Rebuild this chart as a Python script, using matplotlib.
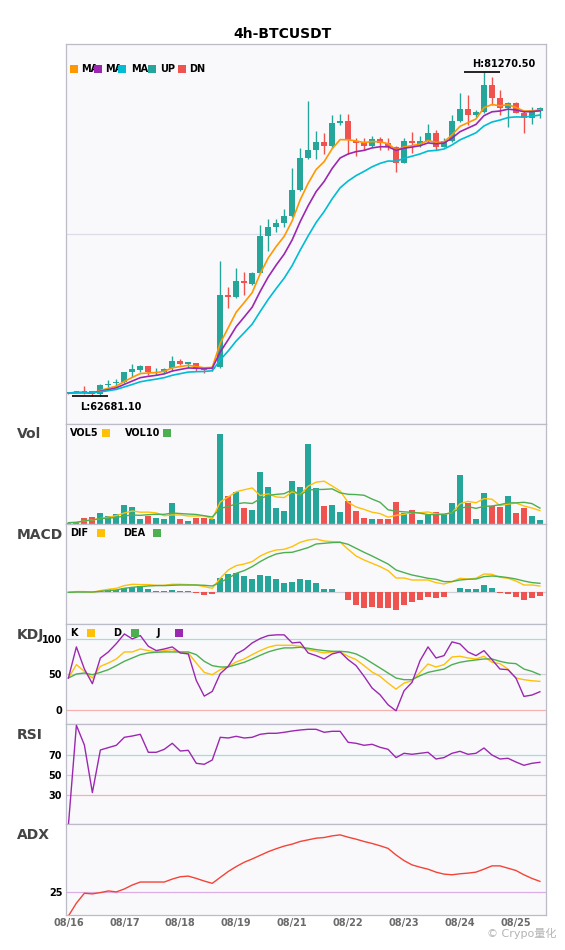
import numpy as np
import pandas as pd
import matplotlib
matplotlib.use("Agg")
import matplotlib.pyplot as plt
from matplotlib.patches import Rectangle

UP = "#26a69a"
DN = "#ef5350"
YEL = "#ffc107"
GRN = "#4caf50"
PUR = "#9c27b0"

# 4h candles, 16 Aug - 25 Aug
date_labels = ["08/16", "08/17", "08/18", "08/19", "08/21", "08/22", "08/23", "08/24", "08/25"]
date_index = [0, 7, 14, 21, 28, 35, 42, 49, 56]

opens = [62910, 62887, 62955, 62984, 62812, 63311, 63425, 63517, 64089, 64187,
         64416, 63998, 64072, 64284, 64719, 64548, 64570, 64284, 64227, 64341,
         68482, 68385, 69284, 69112, 69759, 71861, 72394, 72623, 73006, 74495,
         76328, 76786, 77244, 77015, 78333, 78447, 77302, 77170, 77015, 77399,
         77170, 76958, 76059, 77319, 77130, 77319, 77743, 76975, 77319, 78464,
         79117, 78774, 78980, 80509, 79747, 79174, 79495, 78922, 78602, 79037]
highs = [62955, 63013, 63288, 63013, 63385, 63614, 63671, 64101, 64530, 64473,
         64444, 64319, 64284, 64989, 64800, 64662, 64588, 64330, 64416, 70429,
         68957, 70011, 69816, 69799, 72491, 72817, 72817, 73407, 75738, 76884,
         79592, 77874, 77743, 78791, 78848, 78848, 77456, 77456, 77588, 77514,
         77456, 77015, 77456, 77834, 77588, 78275, 77932, 77456, 78791, 80033,
         79936, 79077, 81270.5, 80984, 80222, 79552, 79552, 79077, 79232, 79232]
lows = [62812, 62852, 62841, 62681.1, 62727, 63230, 63230, 63425, 63803, 64089,
        63900, 63900, 63998, 64147, 64456, 64376, 64147, 63998, 64130, 64284,
        67720, 68293, 68482, 69055, 69725, 71019, 72107, 72394, 72966, 74455,
        76254, 76254, 76557, 76884, 78201, 76557, 76460, 76786, 76941, 76786,
        76786, 75543, 76025, 76597, 76975, 77262, 76786, 76975, 77262, 78407,
        78218, 78693, 78888, 79363, 78791, 78086, 78888, 77777, 78275, 78602]
closes = [62870, 62984, 62887, 62795, 63328, 63385, 63517, 64072, 64227, 64416,
          64089, 64089, 64261, 64702, 64530, 64605, 64227, 64187, 64376, 68482,
          68385, 69284, 69152, 69759, 71861, 72394, 72588, 73006, 74495, 76328,
          76786, 77244, 77015, 78333, 78430, 77359, 77170, 77015, 77399, 77204,
          76958, 76059, 77319, 77170, 77319, 77743, 76975, 77319, 78464, 79117,
          78774, 78980, 80509, 79747, 79174, 79495, 78922, 78602, 79037, 79174]
volume = [1.3, 2, 6, 7, 11, 8, 10, 19, 17, 5, 8.3, 6, 5, 21, 5, 3, 6, 6, 5, 90,
          28, 32, 16, 14, 52, 37, 16, 13, 43, 37, 80, 36, 18, 19, 12, 23, 13, 6, 5, 5,
          5, 22, 11.3, 14, 4, 9, 12, 10, 21, 49, 21, 5, 31, 18, 17, 28, 11, 16, 8, 4]

dif = [0, 0.7, 0.7, 0, 1.7, 3, 4, 6.7, 8, 7.7, 7.7, 7, 7, 8, 8, 7.7, 7.3, 5.7, 4, 14,
       22.3, 26.7, 28.3, 30.7, 36.3, 40, 42.3, 43, 45.7, 50, 52.3, 53.3, 51.3, 50.7, 50.3, 43, 36.3, 32.3, 29, 25.7,
       21.7, 14.3, 14.3, 12.3, 12.3, 12.3, 9.7, 8.3, 10.7, 14, 13.3, 14, 18.3, 18, 15, 14, 11.3, 7.3, 7.3, 6.3]
dea = [0, 0.3, 0.3, 0.3, 1, 1.7, 2.3, 4, 5, 5.7, 6.3, 6.7, 6.7, 7, 7.3, 7.3, 7.3, 7, 6.3, 10,
       14, 19, 21.7, 25.7, 30.7, 35, 38.3, 39.7, 40, 42.3, 44.7, 48.3, 49, 49.7, 50, 48, 44, 40, 36.3, 32.3,
       28.3, 22.3, 19.7, 17.3, 15.7, 14, 13, 10.7, 10.7, 12.3, 13, 13.3, 15.7, 16.3, 15.7, 14.7, 13.3, 11.3, 9.7, 9]
macd_hist = [0, 0.3, 0.3, 0.3, 1.7, 3, 2.3, 4, 5.7, 6.3, 3.3, 1.3, 1.3, 2, 1.3, 1.3, -1, -2.3, -1.3, 14.3,
             18.3, 19.3, 16.3, 13.3, 17.3, 16.3, 13.3, 9.3, 10.3, 13.3, 12, 9, 3.3, 3.3, 0, -7.7, -12.7, -15.3, -14.7, -15.3,
             -15.7, -17.7, -12.7, -9.7, -7.7, -4.7, -5.7, -4.7, 0, 4.3, 3.3, 3.3, 7.3, 4.3, -0.7, -1.7, -4.7, -7.7, -5.7, -3.7]

k_line = [44.8, 63.7, 54.2, 44.8, 61.3, 66, 71.7, 81.6, 81.6, 85.8, 83.5, 81.6, 83.5, 85, 80.2, 80.2, 66, 52.8, 49.5, 56.6,
          61.3, 67.5, 71.7, 77.8, 83.5, 88.2, 91, 91, 91, 89.6, 84.9, 82.5, 80.2, 81.6, 81.6, 75.5, 70.8, 62.3, 53.3, 47.2,
          37.7, 29.2, 37.7, 41, 52.8, 64.6, 60.4, 63.7, 74.5, 75.5, 73.1, 71.7, 75.5, 67, 65.1, 57.5, 44.8, 42.5, 41, 40.1]
d_line = [44.8, 50.5, 51.9, 49.5, 52.8, 56.6, 62.3, 68.4, 73.1, 77.8, 80.2, 81.1, 81.6, 81.6, 81.6, 81.6, 77.8, 68.4, 62.3, 60.4,
          60.4, 63.7, 67, 71.7, 76.9, 81.6, 84.9, 87.3, 87.3, 88.2, 86.8, 84.9, 83.5, 82.5, 82.5, 81.6, 78.8, 73.1, 66, 59,
          51.9, 44.8, 42.5, 42.5, 48.1, 52.8, 55.2, 57.5, 63.7, 67, 68.9, 70.3, 71.7, 71.7, 68.4, 66, 65.1, 57.5, 54.2, 49.5]
j_line = [44.8, 88.7, 57.5, 36.8, 73, 81.6, 93.4, 107, 100, 104.7, 89.6, 83.5, 85.8, 88.7, 80.2, 78.8, 41.5, 19.3, 25.9, 51,
          61.3, 78.8, 85, 94.3, 100.5, 104.7, 105.7, 105.7, 94.3, 95.3, 80.2, 76.4, 71.7, 78.8, 81.6, 70.8, 62.3, 47.2, 30.7, 21.2,
          7.1, -1.4, 26.9, 38.7, 69.3, 88.7, 73.1, 76.4, 95.8, 92.9, 81.6, 76.4, 83.5, 70.8, 57.5, 56.6, 44.8, 18.9, 20.8, 25.5]

rsi = [0, 100, 80.3, 32.7, 75.3, 77.7, 80, 88, 89.3, 91, 73, 73, 76, 82, 74.3, 75, 62, 61, 65.3, 88,
       87.3, 89, 87.3, 88, 91, 92, 92, 93, 94.3, 95.3, 96, 96, 93, 94, 94, 83, 82, 80, 81, 78,
       76, 67.7, 72, 71, 72, 73, 66.3, 67.7, 72, 74, 71, 72, 77.3, 70.3, 66.3, 67, 63.3, 60, 62, 63]

adx = [17.7, 21.6, 24.6, 24.4, 24.8, 25.3, 25, 25.9, 27.1, 28, 28, 28, 28, 28.9, 29.6, 29.8, 29.1, 28.3, 27.6, 29.4,
       31.2, 32.7, 34, 35, 36.1, 37.2, 38.1, 38.9, 39.5, 40.3, 40.8, 41.3, 41.5, 42, 42.3, 41.6, 41, 40.3, 39.7, 39,
       38.2, 36.2, 34.5, 33.2, 32.5, 31.9, 31, 30.4, 30.2, 30.5, 30.7, 31, 31.9, 32.9, 32.9, 32.2, 31.5, 30.2, 29.1, 28.2]

W, H = 565, 950


def fxy(px, py):
    # image pixel -> figure fraction
    return px / W, 1 - py / H


def style_axis(ax):
    ax.set_facecolor("#f9f9fc")
    for s in ax.spines.values():
        s.set_color("#bcbcc8")
        s.set_linewidth(0.9)
    ax.tick_params(length=0, labelbottom=False, labelleft=False)
    ax.set_xlim(-0.3, 59.7)


def add_panel_axes(fig, top, bottom):
    l, t = fxy(66, top)
    r, b = fxy(545.5, bottom)
    ax = fig.add_axes([l, b, r - l, t - b])
    style_axis(ax)
    return ax


def legend_text(fig, px, py, txt):
    x, y = fxy(px, py)
    fig.text(x, y, txt, fontsize=7, fontweight="bold", va="center", ha="left", zorder=3)


def legend_box(fig, px, py, color):
    x, y = fxy(px, py + 4)
    fig.patches.append(Rectangle((x, y), 8 / W, 8 / H, transform=fig.transFigure,
                                 facecolor=color, edgecolor="none", zorder=4))


def set_ref_ticks(ax, ticks):
    ax.set_yticks(ticks)
    ax.tick_params(labelleft=True, pad=3)
    for lab in ax.get_yticklabels():
        lab.set_fontweight("bold")
        lab.set_fontsize(7)


fig = plt.figure(figsize=(W / 100, H / 100), dpi=100)
fig.patch.set_facecolor("white")

x = np.arange(len(closes))
o = np.array(opens, dtype=float)
hi = np.array(highs, dtype=float)
lo = np.array(lows, dtype=float)
c = np.array(closes, dtype=float)
colors = np.where(c >= o, UP, DN)

# ---- price panel
ax = add_panel_axes(fig, 44, 424)
ax.vlines(x, lo, hi, color=colors, lw=1.0, zorder=2)
span = hi.max() - lo.min()
body = np.maximum(np.abs(c - o), span * 0.004)
ax.bar(x, body, bottom=np.minimum(o, c), width=0.72, color=colors, zorder=2)
close_s = pd.Series(c)
# exponential MAs 5 / 8 / 13
for n, col in [(5, "#ff9800"), (8, PUR), (13, "#00bcd4")]:
    ax.plot(x, close_s.ewm(span=n, adjust=False).mean(), color=col, lw=1.2, zorder=3)
pad = span * 0.0853
ax.set_ylim(lo.min() - pad, hi.max() + pad)
ax.set_yticks([72000])
ax.yaxis.grid(True, color="#dcdce8", lw=0.9)
ax.set_axisbelow(True)

i_hi = int(hi.argmax())
i_lo = int(lo.argmin())
ax.hlines(hi.max(), i_hi - 2.5, i_hi + 2, color="black", lw=1.2, zorder=4)
ax.annotate(f"H:{hi.max():.2f}", (i_hi - 1.5, hi.max()), xytext=(0, 5.5),
            textcoords="offset points", fontsize=7, fontweight="bold", va="center")
ax.hlines(lo.min(), i_lo - 2.5, i_lo + 2, color="black", lw=1.2, zorder=4)
ax.annotate(f"L:{lo.min():.2f}", (i_lo - 1.5, lo.min()), xytext=(0, -7.5),
            textcoords="offset points", fontsize=7, fontweight="bold", va="center")

legend_box(fig, 70, 69, "#ff9800")
legend_text(fig, 81, 69, "MA")
legend_box(fig, 94, 69, PUR)
legend_text(fig, 105, 69, "MA")
legend_box(fig, 118, 69, "#00bcd4")
legend_text(fig, 131, 69, "MA")
legend_box(fig, 148, 69, UP)
legend_text(fig, 160, 69, "UP")
legend_box(fig, 178, 69, DN)
legend_text(fig, 189, 69, "DN")

# ---- volume
ax_v = add_panel_axes(fig, 424, 524)
vol = np.array(volume)
ax_v.bar(x, vol, width=0.75, color=colors, zorder=2)
vol_s = pd.Series(vol)
ax_v.plot(x, vol_s.rolling(5, min_periods=1).mean(), color=YEL, lw=1.0, zorder=3)
ax_v.plot(x, vol_s.rolling(10, min_periods=1).mean(), color=GRN, lw=1.0, zorder=3)
ax_v.set_ylim(0, vol.max() * 1.11)
legend_text(fig, 70, 433, "VOL5")
legend_box(fig, 102, 433, YEL)
legend_text(fig, 125, 433, "VOL10")
legend_box(fig, 163, 433, GRN)

# ---- MACD
ax_m = add_panel_axes(fig, 524, 624)
hist = np.array(macd_hist)
ax_m.axhline(0, color="#cfcfd8", lw=0.9, zorder=1)
ax_m.bar(x, hist, width=0.75, color=np.where(hist >= 0, UP, DN), zorder=2)
ax_m.plot(x, dif, color=YEL, lw=1.0, zorder=3)
ax_m.plot(x, dea, color=GRN, lw=1.0, zorder=3)
ax_m.set_ylim(-31.7, 68.3)
legend_text(fig, 70, 533, "DIF")
legend_box(fig, 97, 533, YEL)
legend_text(fig, 123, 533, "DEA")
legend_box(fig, 153, 533, GRN)

# ---- KDJ
ax_k = add_panel_axes(fig, 624, 724)
ax_k.axhline(100, color="#a6dcd5", lw=0.9, zorder=1)
ax_k.axhline(50, color="#cfcfd4", lw=0.9, zorder=1)
ax_k.axhline(0, color="#f7b0b0", lw=0.9, zorder=1)
ax_k.plot(x, k_line, color=YEL, lw=1.0, zorder=3)
ax_k.plot(x, d_line, color=GRN, lw=1.0, zorder=3)
ax_k.plot(x, j_line, color=PUR, lw=1.0, zorder=3)
ax_k.set_ylim(-20, 121)
set_ref_ticks(ax_k, [0, 50, 100])
legend_text(fig, 70, 633, "K")
legend_box(fig, 87, 633, YEL)
legend_text(fig, 113, 633, "D")
legend_box(fig, 131, 633, GRN)
legend_text(fig, 157, 633, "J")
legend_box(fig, 175, 633, PUR)

# ---- RSI
ax_r = add_panel_axes(fig, 724, 824)
ax_r.axhline(70, color="#a6dcd5", lw=0.9, zorder=1)
ax_r.axhline(50, color="#cfcfd4", lw=0.9, zorder=1)
ax_r.axhline(30, color="#f7b0b0", lw=0.9, zorder=1)
ax_r.plot(x, rsi, color=PUR, lw=1.0, zorder=3)
ax_r.set_ylim(1.3, 101.3)
set_ref_ticks(ax_r, [30, 50, 70])

# ---- ADX
ax_a = add_panel_axes(fig, 824, 915)
ax_a.axhline(25, color="#dcaee6", lw=0.9, zorder=1)
ax_a.plot(x, adx, color="#f44336", lw=1.0, zorder=3)
ax_a.set_ylim(18, 45.6)
set_ref_ticks(ax_a, [25])
ax_a.set_xticks(date_index)
ax_a.set_xticklabels(date_labels)
ax_a.tick_params(labelbottom=True, pad=2)
for lab in ax_a.get_xticklabels():
    lab.set_fontweight("bold")
    lab.set_fontsize(7)
    lab.set_color("#6a6a6a")

# ---- titles and panel names
tx, ty = fxy(282.5, 34)
fig.text(tx, ty, "4h-BTCUSDT", ha="center", va="center", fontsize=10, fontweight="bold")
for name, py in [("Vol", 434), ("MACD", 535), ("KDJ", 635), ("RSI", 735), ("ADX", 835)]:
    px_, py_ = fxy(17, py)
    fig.text(px_, py_, name, ha="left", va="center", fontsize=10, fontweight="bold", color="#444444")

wx, wy = fxy(487, 933)
fig.text(wx, wy, "© Crypo量化", fontsize=8, color="#b4b4b4", va="center", ha="left",
         family=["DejaVu Sans", "Noto Sans CJK SC"])

fig.savefig("out.png", dpi=100)
